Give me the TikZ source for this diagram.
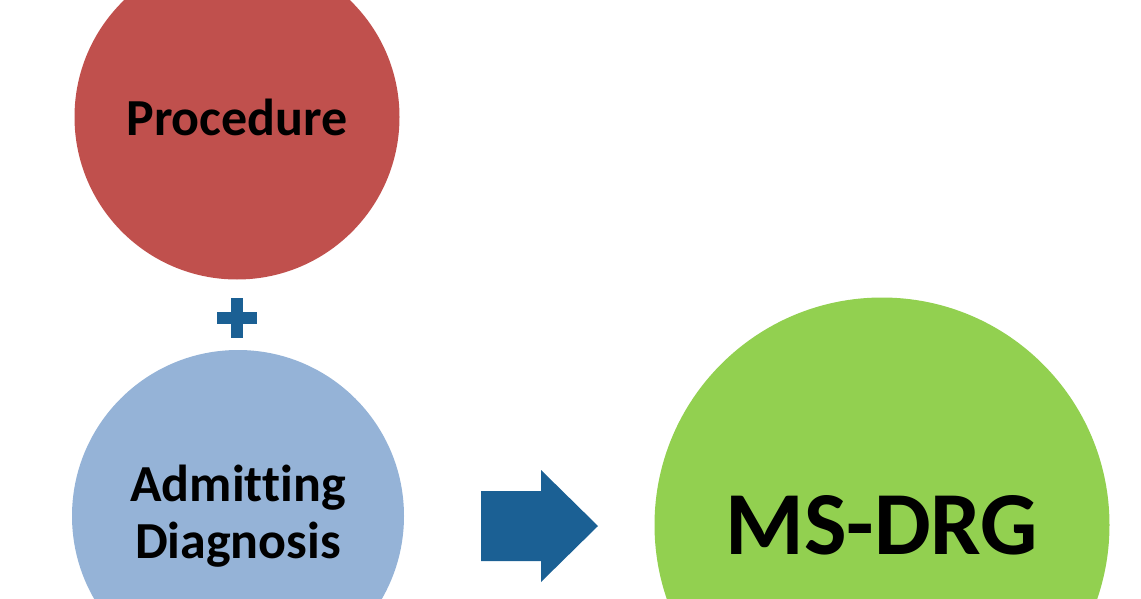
\documentclass[tikz,border=0pt]{standalone}
\usepackage{fontspec}
\setmainfont{Carlito}[Ligatures=NoCommon]
\definecolor{cred}{HTML}{C0504D}
\definecolor{cblue}{HTML}{95B3D7}
\definecolor{cgreen}{HTML}{92D050}
\definecolor{cdark}{HTML}{1B6094}
\begin{document}
\begin{tikzpicture}[x=1pt,y=-1pt,
  circ/.style={circle,inner sep=0pt,align=center,font=\bfseries}]
\useasboundingbox (0,0) rectangle (1141,599);
\clip (0,0) rectangle (1141,599);
\node[circ,fill=cred,minimum size=325pt,font=\bfseries\fontsize{52}{58}\selectfont] (proc) at (237,117) {Procedure};
\node[circ,fill=cblue,minimum size=332pt,font=\bfseries\fontsize{52}{57}\selectfont] (adm) at (238,516) {Admitting\\Diagnosis};
\node[circ,fill=cgreen,minimum size=455pt,font=\bfseries\fontsize{90}{100}\selectfont] (ms) at (882,525) {MS-DRG};
\node[fill=cdark,minimum width=40pt,minimum height=12pt,inner sep=0pt] (plush) at (237,318) {};
\node[fill=cdark,minimum width=12pt,minimum height=40pt,inner sep=0pt] (plusv) at (237,318) {};
\fill[cdark] (481,491) -- (541,491) -- (541,470) -- (598,526) -- (541,582) -- (541,561) -- (481,561) -- cycle;
\end{tikzpicture}
\end{document}
